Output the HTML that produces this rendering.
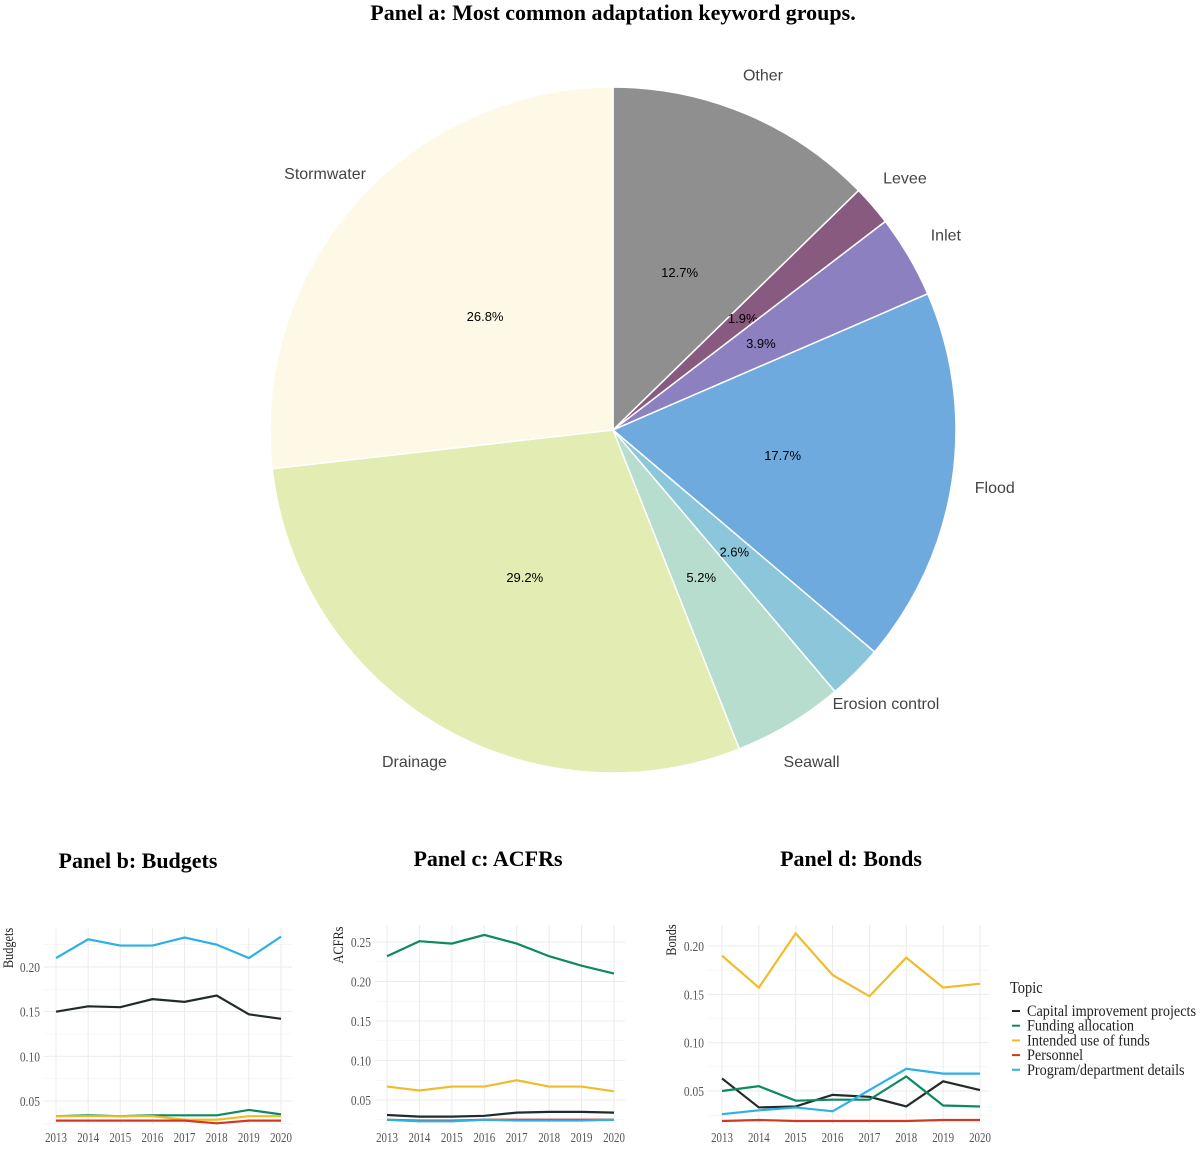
<!DOCTYPE html>
<html><head><meta charset="utf-8"><style>
body{margin:0;background:#fff;width:1200px;height:1144px;overflow:hidden}
svg text{font-family:"Liberation Serif",serif}
</style></head><body>
<svg id="c" width="1200" height="1144" xmlns="http://www.w3.org/2000/svg">
<text x="613" y="20" text-anchor="middle" font-size="22" font-weight="bold">Panel a: Most common adaptation keyword groups.</text>
<text x="138" y="868" text-anchor="middle" font-size="22" font-weight="bold">Panel b: Budgets</text>
<text x="488" y="866" text-anchor="middle" font-size="22" font-weight="bold">Panel c: ACFRs</text>
<text x="851" y="866" text-anchor="middle" font-size="22" font-weight="bold">Panel d: Bonds</text>
<g id="pie"></g>
<g id="pb"></g>
<g id="pc"></g>
<g id="pd"></g>
<g id="legend"></g>
</svg>
<script>
const pieLabels=["Other","Levee","Inlet","Flood","Erosion control","Seawall","Drainage","Stormwater"];
const pieValues=[12.7,1.9,3.9,17.7,2.6,5.2,29.2,26.8];
const pieColors=["#8f8f8f","#885a7f","#8c80c0","#6eaade","#8cc6da","#b6ddcd","#e2ecb3","#fdf9e6"];

const years=[2013,2014,2015,2016,2017,2018,2019,2020];
const topics=["Capital improvement projects","Funding allocation","Intended use of funds","Personnel","Program/department details"];
const topicColors=["#222a2a","#0d8a5e","#f0bc2a","#d03a22","#2cb0e8"];
const budgetsCap=[.150,.156,.155,.164,.161,.168,.147,.142];
const budgetsFund=[.033,.034,.033,.034,.034,.034,.040,.035];
const budgetsUse=[.033,.033,.033,.033,.029,.029,.033,.033];
const budgetsPers=[.028,.028,.028,.028,.028,.025,.028,.028];
const budgetsProg=[.210,.231,.224,.224,.233,.225,.210,.234];
const acfrsCap=[.031,.029,.029,.030,.034,.035,.035,.034];
const acfrsFund=[.232,.251,.248,.259,.248,.232,.220,.210];
const acfrsUse=[.067,.062,.067,.067,.075,.067,.067,.061];
const acfrsPers=[.025,.024,.024,.025,.025,.025,.025,.025];
const acfrsProg=[.025,.023,.023,.025,.024,.024,.024,.025];
const bondsCap=[.063,.033,.034,.046,.044,.034,.060,.051];
const bondsFund=[.050,.055,.040,.041,.041,.065,.035,.034];
const bondsUse=[.190,.157,.213,.170,.148,.188,.157,.161];
const bondsPers=[.019,.020,.019,.019,.019,.019,.020,.020];
const bondsProg=[.026,.030,.033,.029,.051,.073,.068,.068];
const budgetsTicks=[0.05,0.10,0.15,0.20];
const acfrsTicks=[0.05,0.10,0.15,0.20,0.25];
const bondsTicks=[0.05,0.10,0.15,0.20];

const NS="http://www.w3.org/2000/svg";
function mk(p,t,a){const e=document.createElementNS(NS,t);for(const k in a)e.setAttribute(k,a[k]);p.appendChild(e);return e;}

(function(){
const g=document.getElementById('pie');const cx=613,cy=430,R=343;
const tot=pieValues.reduce((a,b)=>a+b,0);let acc=0;
const pt=(f,r)=>[cx+r*Math.sin(f*2*Math.PI),cy-r*Math.cos(f*2*Math.PI)];
pieValues.forEach((v,i)=>{
 const f0=acc/tot,f1=(acc+v)/tot;acc+=v;
 const [x0,y0]=pt(f0,R),[x1,y1]=pt(f1,R);
 const s=mk(g,'path',{d:`M${cx},${cy}L${x0},${y0}A${R},${R} 0 ${f1-f0>0.5?1:0} 1 ${x1},${y1}Z`,fill:pieColors[i],stroke:'#fff','stroke-width':1.5});
 
 
 const fm=(f0+f1)/2;const [lx,ly]=pt(fm,R*0.5);
 const t=mk(g,'text',{x:lx,y:ly+5,'text-anchor':'middle','font-size':13,style:'font-family:"Liberation Sans",sans-serif',fill:'#000'});
 t.textContent=v.toFixed(1)+'%';
 
 
 const [ox,oy]=pt(fm,386);
 const o=mk(g,'text',{x:ox,y:oy+6,'text-anchor':'middle','font-size':16,style:'font-family:"Liberation Sans",sans-serif',fill:'#444'});
 o.textContent=pieLabels[i];
 
 
});
})();

function lineChart(id,cfg){
 const g=document.getElementById(id);
 const xs=y=>cfg.x0+(y-2013)*(cfg.x1-cfg.x0)/7;
 const ys=v=>cfg.y05+(v-0.05)*(cfg.yTop-cfg.y05)/(cfg.vTop-0.05);
 const L=cfg.left,Rt=cfg.right,T=cfg.top,B=cfg.bottom;
 for(let v=0.025;v<=0.3;v+=0.05){const y=ys(v);if(y>=T&&y<=B)mk(g,'line',{x1:L,x2:Rt,y1:y,y2:y,stroke:'#f2f2f2','stroke-width':0.6});}
 cfg.ticks.forEach(v=>{const y=ys(v);mk(g,'line',{x1:L,x2:Rt,y1:y,y2:y,stroke:'#ebebeb','stroke-width':1});
  const t=mk(g,'text',{x:L-4,y:y+5,'text-anchor':'end','font-size':14,fill:'#555',transform:`translate(${(L-4)},0) scale(0.82,1) translate(${-(L-4)},0)`});t.textContent=v.toFixed(2);
  
  });
 years.forEach(yr=>{const x=xs(yr);mk(g,'line',{x1:x,x2:x,y1:T,y2:B,stroke:'#ebebeb','stroke-width':1});
  const t=mk(g,'text',{x:x,y:B+18,'text-anchor':'middle','font-size':14,fill:'#555',transform:`translate(${x},0) scale(0.78,1) translate(${-x},0)`});t.textContent=yr;
  
  });
 const at=mk(g,'text',{x:0,y:0,'text-anchor':'middle','font-size':15,fill:'#222',transform:`translate(${cfg.titleX},${cfg.titleY}) rotate(-90) scale(0.82,1)`});at.textContent=cfg.title;
 
 
 cfg.series.forEach((s,i)=>{
  const p=mk(g,'polyline',{points:s.map((v,j)=>xs(years[j])+','+ys(v)).join(' '),fill:'none',stroke:topicColors[i],'stroke-width':2.2});
  
  
 });
}
lineChart('pb',{x0:56,x1:281,y05:1101,yTop:967,vTop:0.20,left:44,right:292,top:928,bottom:1124,ticks:budgetsTicks,title:'Budgets',titleX:13,titleY:948,
 series:[budgetsCap,budgetsFund,budgetsUse,budgetsPers,budgetsProg]});
lineChart('pc',{x0:387,x1:614,y05:1100,yTop:942,vTop:0.25,left:375,right:625,top:925,bottom:1124,ticks:acfrsTicks,title:'ACFRs',titleX:343,titleY:945,
 series:[acfrsCap,acfrsFund,acfrsUse,acfrsPers,acfrsProg]});
lineChart('pd',{x0:722,x1:980,y05:1091,yTop:946,vTop:0.20,left:708,right:989,top:925,bottom:1124,ticks:bondsTicks,title:'Bonds',titleX:676,titleY:940,
 series:[bondsCap,bondsFund,bondsUse,bondsPers,bondsProg]});

(function(){
 const g=document.getElementById('legend');
 const t=mk(g,'text',{x:1010,y:993,'font-size':17,fill:'#222',transform:'translate(1010,0) scale(0.85,1) translate(-1010,0)'});t.textContent='Topic';
 
 
 topics.forEach((tp,i)=>{const y=1011+i*14.7;
  mk(g,'line',{x1:1012,x2:1020,y1:y,y2:y,stroke:topicColors[i],'stroke-width':2});
  const e=mk(g,'text',{x:1027,y:y+5,'font-size':16,fill:'#222',transform:'translate(1027,0) scale(0.89,1) translate(-1027,0)'});e.textContent=tp;
  
  
 });
})();
</script>
</body></html>
